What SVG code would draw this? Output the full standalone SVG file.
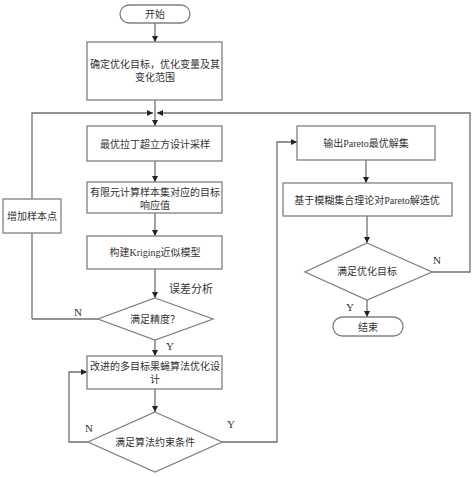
<svg xmlns="http://www.w3.org/2000/svg" width="474" height="477" viewBox="0 0 474 477">
<style>
text{font-family:"Liberation Serif","Noto Sans CJK SC",serif;font-size:10px;fill:#333;text-anchor:middle;dominant-baseline:central}
.n{fill:#fff;stroke:#808080;stroke-width:1.3}
.c{fill:none;stroke:#707070;stroke-width:1.3}
.lbl{font-size:11px}
</style>
<defs>
<marker id="a" viewBox="0 0 10 10" refX="10" refY="5" markerWidth="6" markerHeight="6" orient="auto" markerUnits="userSpaceOnUse">
<path d="M0,0L10,5L0,10z" fill="#222"/>
</marker>
</defs>
<rect width="474" height="477" fill="#fff"/>
<g id="connectors">
<path class="c" d="M155,23V42" marker-end="url(#a)"/>
<path class="c" d="M155,100V126" marker-end="url(#a)"/>
<path class="c" d="M32,319V113H153" marker-end="url(#a)"/>
<path class="c" d="M432,272H470V113H157" marker-end="url(#a)"/>
<path class="c" d="M155,161V182" marker-end="url(#a)"/>
<path class="c" d="M155,213V236" marker-end="url(#a)"/>
<path class="c" d="M155,269V298" marker-end="url(#a)"/>
<path class="c" d="M98,319H32"/>
<path class="c" d="M155,340V356" marker-end="url(#a)"/>
<path class="c" d="M155,389V412" marker-end="url(#a)"/>
<path class="c" d="M88,442H69V372H87" marker-end="url(#a)"/>
<path class="c" d="M222,442H277V142H297" marker-end="url(#a)"/>
<path class="c" d="M366,160V183" marker-end="url(#a)"/>
<path class="c" d="M367,216V243" marker-end="url(#a)"/>
<path class="c" d="M367,300V317" marker-end="url(#a)"/>
<text class="lbl" x="191" y="289">误差分析</text>
<text class="lbl" x="78" y="312">N</text>
<text class="lbl" x="170" y="346">Y</text>
<text class="lbl" x="89" y="428">N</text>
<text class="lbl" x="231" y="424">Y</text>
<text class="lbl" x="437" y="260">N</text>
<text class="lbl" x="350" y="307">Y</text>
</g>
<g id="start"><rect class="n" x="120" y="5" width="70" height="18" rx="9"/><text x="155" y="14">开始</text></g>
<g id="define"><rect class="n" x="87" y="42" width="135" height="58"/><text x="155" y="64">确定优化目标，优化变量及其</text><text x="155" y="77">变化范围</text></g>
<g id="lhs"><rect class="n" x="87" y="126" width="135" height="35"/><text x="155" y="144">最优拉丁超立方设计采样</text></g>
<g id="fem"><rect class="n" x="87" y="182" width="135" height="31"/><text x="155" y="192">有限元计算样本集对应的目标</text><text x="155" y="205">响应值</text></g>
<g id="kriging"><rect class="n" x="87" y="236" width="135" height="33"/><text x="155" y="252">构建Kriging近似模型</text></g>
<g id="add"><rect class="n" x="3" y="199" width="58" height="34"/><text x="32" y="216">增加样本点</text></g>
<g id="acc"><path class="n" d="M155,298L213,319L155,340L98,319Z"/><text x="155" y="319">满足精度？</text></g>
<g id="foa"><rect class="n" x="87" y="356" width="135" height="33"/><text x="155" y="366">改进的多目标果蝇算法优化设</text><text x="155" y="379">计</text></g>
<g id="cons"><path class="n" d="M155,412L222,442L155,472L88,442Z"/><text x="155" y="442">满足算法约束条件</text></g>
<g id="pareto"><rect class="n" x="297" y="126" width="138" height="34"/><text x="366" y="143">输出Pareto最优解集</text></g>
<g id="fuzzy"><rect class="n" x="283" y="183" width="169" height="33"/><text x="367" y="200">基于模糊集合理论对Pareto解选优</text></g>
<g id="goal"><path class="n" d="M367,243L432,272L367,300L305,272Z"/><text x="367" y="271">满足优化目标</text></g>
<g id="end"><rect class="n" x="333" y="317" width="70" height="19" rx="9.5"/><text x="368" y="327">结束</text></g>
</svg>
